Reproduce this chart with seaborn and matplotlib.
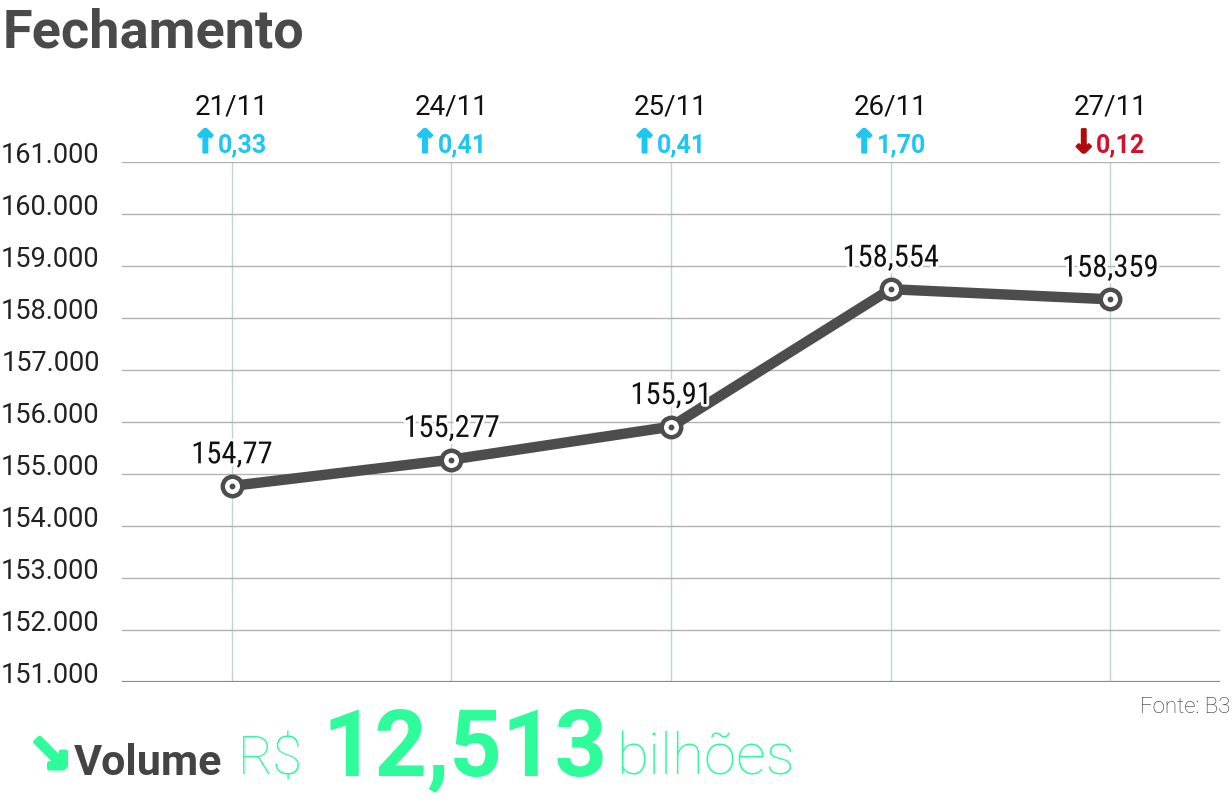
import seaborn as sns
import matplotlib.pyplot as plt
import matplotlib.patheffects as pe
import matplotlib.transforms as mtransforms
import pandas as pd

# dados
datas = ['21/11', '24/11', '25/11', '26/11', '27/11']
fechamento = [154.770, 155.277, 155.910, 158.554, 158.359]
rotulos = ['154,77', '155,277', '155,91', '158,554', '158,359']
variacao = ['0,33', '0,41', '0,41', '1,70', '0,12']
subiu = [True, True, True, True, False]
yticks = [151, 152, 153, 154, 155, 156, 157, 158, 159, 160, 161]
volume = '12,513'

df = pd.DataFrame({'x': range(len(datas)), 'y': fechamento})

sns.set_theme(style='white')
plt.rcParams['font.family'] = ['Roboto', 'DejaVu Sans']
CONDENSADA = ['Roboto Condensed', 'Roboto', 'DejaVu Sans']

CINZA = '#4d4d4d'
AZUL = '#1ec6f2'
VERDE = '#2efc9a'

fig = plt.figure(figsize=(12.32, 8.03), dpi=100)
ax = fig.add_axes([122 / 1232, 1 - 683 / 803, (1220 - 122) / 1232, (683 - 163) / 803])

sns.lineplot(data=df, x='x', y='y', ax=ax, color=CINZA, linewidth=7.5,
             marker='o', markersize=14, markerfacecolor='white',
             markeredgecolor=CINZA, markeredgewidth=3.2, zorder=5)
ax.plot(df['x'], df['y'], linestyle='none', marker='o', markersize=3.2,
        color=CINZA, zorder=6)

ax.set_xlim(-0.5, 4.5)
ax.set_ylim(151, 161)
ax.set_yticks(yticks)
ax.set_yticklabels([f'{v}.000' for v in yticks], fontsize=19.5, color='#222222')
for lab in ax.get_yticklabels():
    lab.set_va('baseline')
ax.tick_params(axis='y', length=0, pad=16)
ax.set_xticks(range(len(datas)))
ax.set_xticklabels([])
ax.tick_params(axis='x', length=0)
ax.set_xlabel('')
ax.set_ylabel('')

for s in ax.spines.values():
    s.set_visible(False)
ax.grid(axis='y', color='#b3b3b3', linewidth=1)
ax.grid(axis='x', color='#bcd6d2', linewidth=1)
ax.axhline(151, color='#8a8a8a', linewidth=1.6, zorder=2)

# rótulos dos pontos
for i, (v, t) in enumerate(zip(fechamento, rotulos)):
    ax.annotate(t, (i, v), xytext=(0, 12), textcoords='offset points',
                ha='center', va='bottom', fontsize=22, color='#111111',
                family=CONDENSADA,
                path_effects=[pe.withStroke(linewidth=4, foreground='white')],
                zorder=7)

# datas e variações no topo
trans = mtransforms.blended_transform_factory(ax.transData, fig.transFigure)
for i, (d, var, up) in enumerate(zip(datas, variacao, subiu)):
    ax.text(i, 1 - 107 / 803, d, transform=trans, ha='center', va='center',
            fontsize=20, color='#111111')
    seta = '\u2191' if up else '\u2193'
    cor_seta = AZUL if up else '#b00b0b'
    cor_txt = AZUL if up else '#d4102b'
    ax.annotate(seta, (i, 1 - 145 / 803), xycoords=trans, xytext=(-19, 0),
                textcoords='offset points', ha='center', va='center',
                fontsize=23, fontweight='bold', color=cor_seta,
                family=['DejaVu Sans'],
                path_effects=[pe.withStroke(linewidth=1.6, foreground=cor_seta)])
    ax.annotate(var, (i, 1 - 145 / 803), xycoords=trans, xytext=(-10, 0),
                textcoords='offset points', ha='left', va='center',
                fontsize=18, fontweight='bold', color=cor_txt)

# título
fig.text(3 / 1232, 1 - 47 / 803, 'Fechamento', fontsize=39, fontweight='bold',
         color='#4a4a4a', ha='left', va='baseline')

# fonte
fig.text(1230 / 1232, 1 - 713 / 803, 'Fonte: B3', fontsize=16, color='#333333',
         fontweight='light', ha='right', va='baseline')

# volume
base = 1 - 775 / 803
fig.text(28 / 1232, base + 2 / 803, '\u2198', fontsize=38, fontweight='bold',
         color=VERDE, family=['DejaVu Sans'], ha='left', va='baseline',
         path_effects=[pe.withStroke(linewidth=3, foreground=VERDE)])
fig.text(74 / 1232, base, 'Volume', fontsize=31, fontweight='bold',
         color='#444444', ha='left', va='baseline')
fig.text(238 / 1232, base, 'R$', fontsize=39, fontweight='light',
         color=VERDE, ha='left', va='baseline')
fig.text(322 / 1232, base, volume, fontsize=66, fontweight='bold',
         color=VERDE, ha='left', va='baseline')
fig.text(616 / 1232, base, 'bilhões', fontsize=42, fontweight='light',
         color=VERDE, ha='left', va='baseline')

fig.savefig('out.png', dpi=100)
